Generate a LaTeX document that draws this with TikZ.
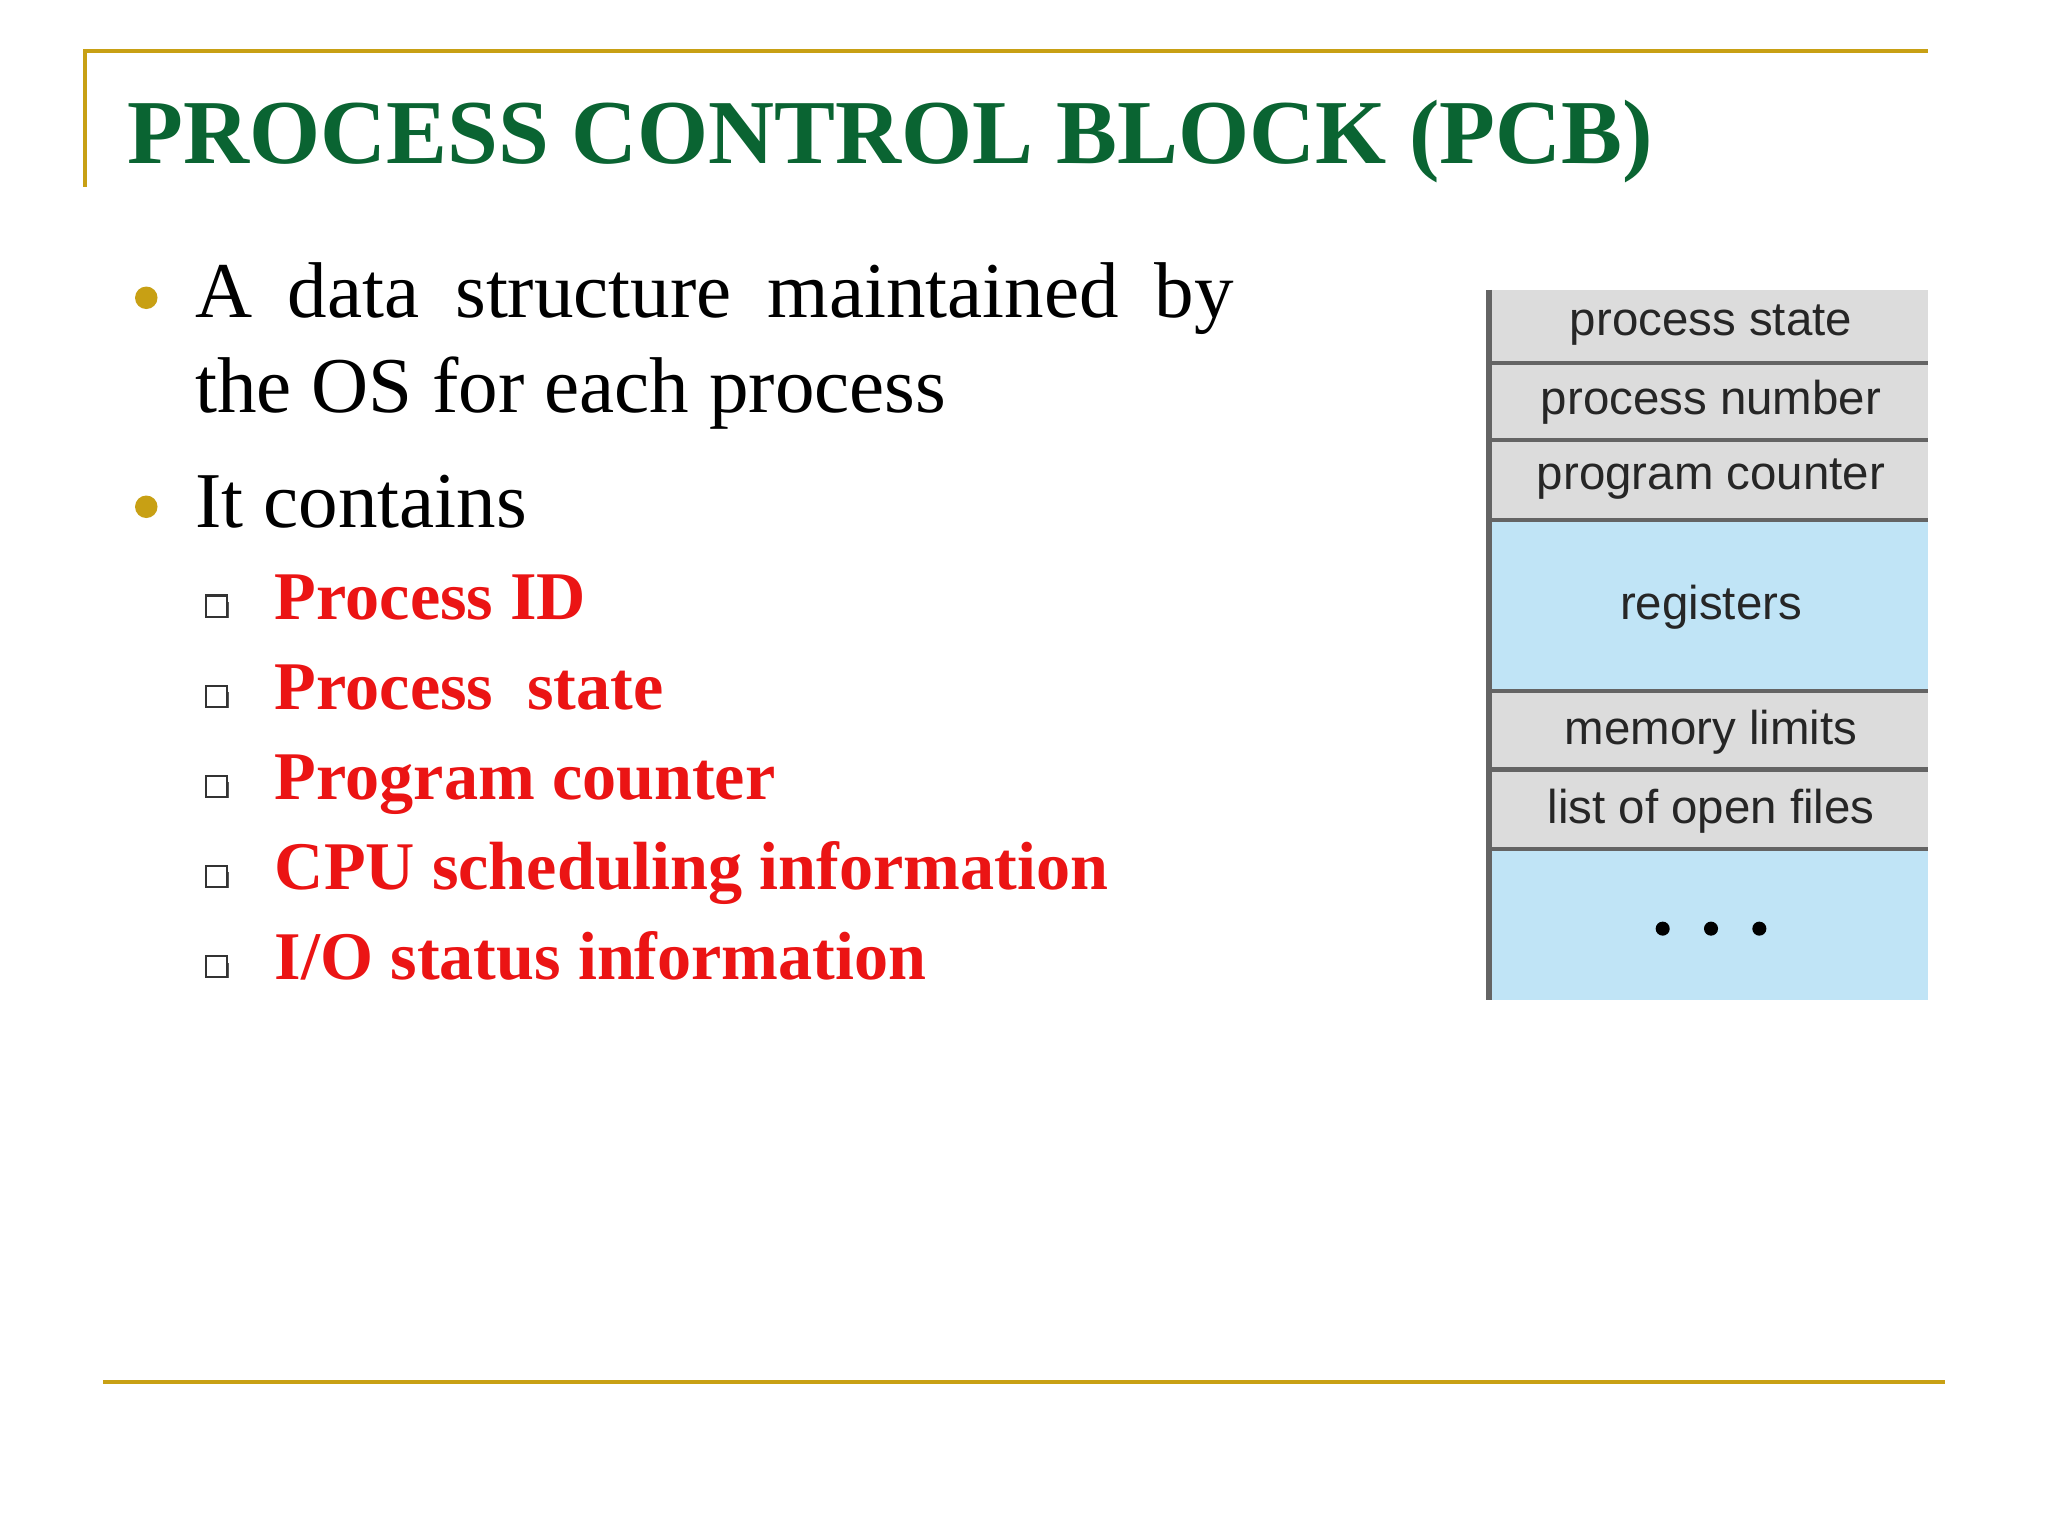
\documentclass[tikz,border=0pt]{standalone}
\usepackage{fontspec}
\setmainfont{Liberation Serif}
\newfontfamily\tabfont{Liberation Sans}
\definecolor{gold}{RGB}{200,160,20}
\definecolor{tgreen}{RGB}{10,100,50}
\definecolor{tred}{RGB}{235,20,20}
\definecolor{pgray}{RGB}{220,220,220}
\definecolor{pblue}{RGB}{192,228,246}
\definecolor{pline}{RGB}{100,100,100}
\begin{document}
\begin{tikzpicture}[x=0.013061cm,y=-0.013061cm,
  body/.style={anchor=base west,inner sep=0,font=\fontsize{22.5}{26}\selectfont},
  sub/.style={anchor=base west,inner sep=0,text=tred,font=\fontsize{19.4}{23}\selectfont\bfseries},
  sq/.style={draw=black!80,fill=white,minimum size=6pt,inner sep=0,line width=0.6pt},
  cell/.style={inner sep=0,font=\tabfont\fontsize{13.5}{16}\selectfont,text=black!85}]
\useasboundingbox[fill=white] (0,0) rectangle (1568,1176);
\draw[gold,line width=1.2pt] (65,143) |- (1476,39);
\draw[gold,line width=1.2pt] (79,1058) -- (1489,1058);
\node[anchor=base west,inner sep=0,text=tgreen,font=\fontsize{26}{30}\selectfont\bfseries] (title) at (97,125) {PROCESS CONTROL BLOCK (PCB)};
\foreach \y/\n in {228/b1,388/b2}{\fill[gold] (112,\y) circle (3.2pt) coordinate (\n);}
\node[body] (t1) at (149,243) {A\hspace{0.45em}data\hspace{0.45em}structure\hspace{0.45em}maintained\hspace{0.45em}by};
\node[body] (t2) at (149,316) {the OS for each process};
\node[body] (t3) at (149,404) {It contains};
\foreach \y/\t/\n in {460/{Process ID}/s1,529/{Process\ \ state}/s2,598/{Program counter}/s3,667/{CPU scheduling information}/s4,736/{I\slash O status information}/s5}{
  \fill[black!65] (163,\y+1) rectangle (175,\y+13);
  \node[sq] (q\n) at (166,\y+4) {};
  \node[sub] (\n) at (210,\y+14) {\t};
}
% PCB table
\fill[pgray] (1140,222) rectangle (1476,398);
\fill[pblue] (1140,398) rectangle (1476,529);
\fill[pgray] (1140,529) rectangle (1476,650);
\fill[pblue] (1140,650) rectangle (1476,766);
\draw[pline,line width=1.5pt] (1140,222) -- (1140,766);
\foreach \y in {278,337,398,529,589,650}{\draw[pline,line width=1.3pt] (1140,\y) -- (1476,\y);}
\node[cell] (c1) at (1310,249) {process state};
\node[cell] (c2) at (1310,308) {process number};
\node[cell] (c3) at (1310,367) {program counter};
\node[cell] (c4) at (1310,465) {registers};
\node[cell] (c5) at (1310,561) {memory limits};
\node[cell] (c6) at (1310,621) {list of open files};
\foreach \x in {1273,1310,1347}{\fill[black] (\x,711) circle (2pt);}
\end{tikzpicture}
\end{document}
